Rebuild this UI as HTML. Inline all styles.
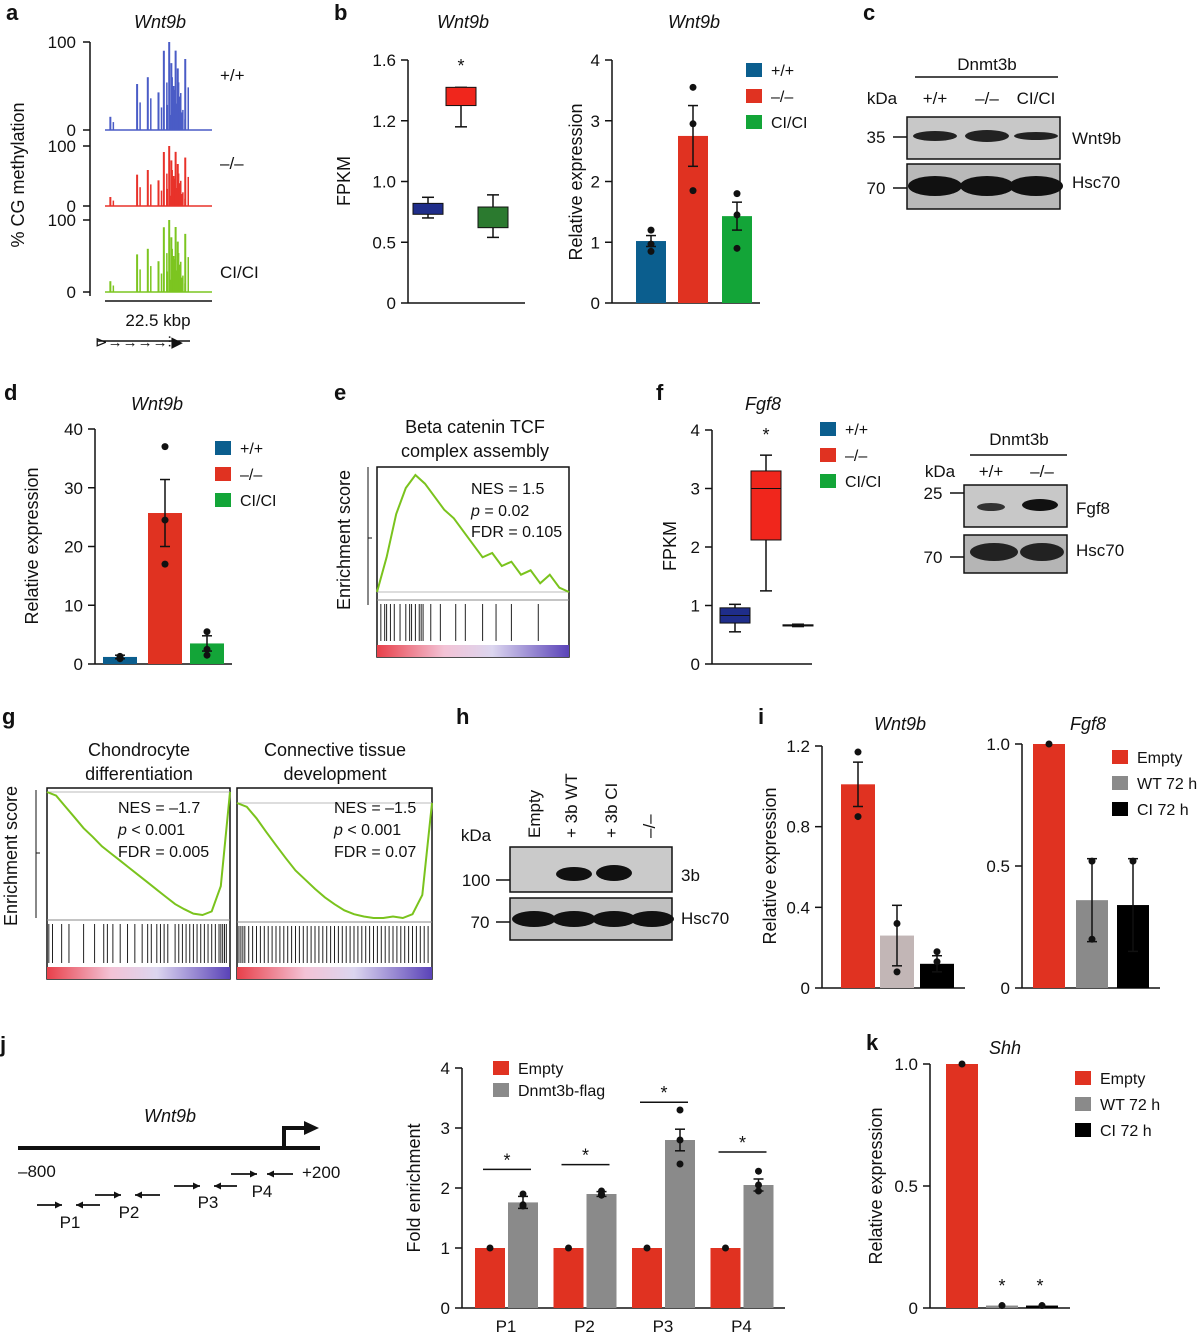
<!DOCTYPE html>
<html><head><meta charset="utf-8">
<style>
html,body{margin:0;padding:0;background:#fff;}
svg{display:block;font-family:"Liberation Sans",sans-serif;}
text{fill:#111;}
</style></head>
<body>
<svg id="fig" width="1200" height="1333" viewBox="0 0 1200 1333" xmlns="http://www.w3.org/2000/svg"></svg>
<script>
// ---------- DATA ----------
var colBlue='#0b5e8e', colRed='#e03221', colGreen='#13a538', colGrey='#8a8a8a', colBlack='#000';
var genoCats=['+/+','–/–','CI/CI'];
var bTicks=[0,0.5,1.0,1.2,1.6];
var bBoxMin=[0.70,1.18,0.54], bBoxQ1=[0.73,1.30,0.62], bBoxQ3=[0.82,1.42,0.79], bBoxMax=[0.87,1.42,0.89];
var bRelVals=[1.02,2.75,1.43], bRelErr=[0.09,0.5,0.23];
var bRelPts=[[1.2,0.97,0.85],[3.55,2.95,1.85],[1.8,1.45,0.9]];
var bRelTicks=[0,1,2,3,4];
var dVals=[1.2,25.7,3.5], dErr=[0.3,5.7,1.3];
var dPts=[[1.3,1.0,0.9],[37,24.5,17],[5.5,2.5,1.5]];
var dTicks=[0,10,20,30,40];
var fBoxMin=[0.55,1.25,0.64], fBoxQ1=[0.70,2.12,0.65], fBoxMed=[0.83,3.0,0.66], fBoxQ3=[0.96,3.30,0.67], fBoxMax=[1.02,3.57,0.68];
var fTicks=[0,1,2,3,4];
var iCats=['Empty','WT 72 h','CI 72 h'];
var iWntVals=[1.01,0.26,0.12], iWntErr=[0.11,0.15,0.04], iWntPts=[[1.17,0.85],[0.32,0.08],[0.18,0.13]];
var iWntTicks=[0,0.4,0.8,1.2];
var iFgfVals=[1.0,0.36,0.34], iFgfErr=[0,0.17,0.19], iFgfPts=[[1.0],[0.52,0.2],[0.52]];
var iFgfTicks=[0,0.5,1.0];
var jCats=['P1','P2','P3','P4'];
var jEmpty=[1,1,1,1], jFlag=[1.76,1.9,2.8,2.05], jFlagErr=[0.1,0.04,0.18,0.1];
var jFlagPts=[[1.9,1.72,1.7],[1.95,1.9,1.88],[3.3,2.8,2.4],[2.28,2.05,1.95]];
var jTicks=[0,1,2,3,4];
var kVals=[1.0,0.01,0.01];
var kTicks=[0,0.5,1.0];
var eES=[0,0.4,0.9,1.2,1.35,1.25,1.1,0.95,0.85,0.7,0.55,0.4,0.45,0.3,0.35,0.2,0.25,0.1,0.2,0.05,0];
var g1ES=[0,-0.05,-0.2,-0.35,-0.5,-0.62,-0.75,-0.85,-0.95,-1.05,-1.15,-1.25,-1.35,-1.45,-1.55,-1.62,-1.68,-1.7,-1.65,-1.3,0];
var g2ES=[0,-0.05,-0.2,-0.38,-0.55,-0.72,-0.88,-1.0,-1.12,-1.23,-1.32,-1.4,-1.45,-1.48,-1.5,-1.5,-1.48,-1.5,-1.45,-1.2,0];
var eHits=[2,4,5,7,9,12,15,17,18,20,22,23,24,28,33,41,46,55,62,70,84];
var g1Hits=[1,3,8,12,20,26,31,33,36,40,44,48,52,55,57,60,62,64,66,70,72,74,76,78,80,82,84,86,88,90,92,94,95,96,97,98];
var g2Hits=[1,2,3,4,6,8,10,12,14,16,18,20,22,24,26,28,30,32,34,36,38,40,42,44,46,48,50,52,54,56,58,60,62,64,66,68,70,72,74,76,78,80,82,84,86,88,90,92,94,96,98];

// ---------- HELPERS ----------
var svg=document.getElementById('fig'), NS='http://www.w3.org/2000/svg';
function el(tag,attrs,parent,txt){var e=document.createElementNS(NS,tag);for(var k in attrs)e.setAttribute(k,attrs[k]);if(txt!==undefined)e.textContent=txt;(parent||svg).appendChild(e);return e;}
function T(x,y,s,size,o){o=o||{};var a={x:x,y:y,'font-size':size||17,'text-anchor':o.anchor||'start'};if(o.it)a['font-style']='italic';if(o.bold)a['font-weight']='bold';if(o.rot)a.transform='rotate(-90 '+x+' '+y+')';var t=el('text',a,o.p,s);return t;}
function L(x1,y1,x2,y2,w,c,p){var l=el('line',{x1:x1,y1:y1,x2:x2,y2:y2,stroke:c||'#111','stroke-width':w||1.5},p);return l;}
function R(x,y,w,h,f,p,name){var r=el('rect',{x:x,y:y,width:w,height:h,fill:f},p);return r;}
function G(name){var g=el('g',{});return g;}
function lin(v0,v1,p0,p1){return function(v){return p0+(v-v0)/(v1-v0)*(p1-p0);};}
function yAxis(g,x,ticks,sc,y0,y1,fmt){L(x,y0,x,y1,1.5,'#111',g);ticks.forEach(function(t,i){var y=sc(t,i);L(x-7,y,x,y,1.5,'#111',g);T(x-12,y+6,fmt?fmt(t):String(t),17,{anchor:'end',p:g,name:'y-tick-label'});});}
function panelLabel(s,x,y){T(x,y,s,22,{bold:true,name:'panel-label-'+s});}
function legend(g,x,y,labels,cols,dy){labels.forEach(function(l,i){var r=R(x,y+i*dy,16,14,cols[i],g,'legend-swatch');T(x+25,y+i*dy+13,l,16,{p:g,name:'legend-entry'});});}
function barChart(g,xs,w,vals,err,pts,cols,sc,y0){vals.forEach(function(v,i){var b=R(xs[i],sc(v),w,y0-sc(v),cols[i],g,'bar-'+i);var cx=xs[i]+w/2;if(err&&err[i]>0){L(cx,sc(v+err[i]),cx,sc(v-err[i]),1.5,'#111',g);L(cx-5,sc(v+err[i]),cx+5,sc(v+err[i]),1.5,'#111',g);L(cx-5,sc(v-err[i]),cx+5,sc(v-err[i]),1.5,'#111',g);}if(pts)pts[i].forEach(function(p){var c=el('circle',{cx:cx,cy:sc(p),r:3.5,fill:'#111'},g);});});}

// ---------- PANEL a ----------
panelLabel('a',6,20);
var ga=G('panel-a');
T(160,28,'Wnt9b',18,{it:true,anchor:'middle',p:ga});
T(24,175,'% CG methylation',18,{rot:true,anchor:'middle',p:ga,name:'y-axis-title'});
L(90,42,90,296,1.5,'#111',ga);
[[42,'100'],[130,'0'],[146,'100'],[206,'0'],[220,'100'],[292,'0']].forEach(function(t){L(83,t[0],90,t[0],1.5,'#111',ga);T(76,t[0]+6,t[1],17,{anchor:'end',p:ga});});
var trackSpikes=[[0.05,0.15],[0.3,0.55],[0.4,0.6],[0.5,0.45],[0.55,0.9],[0.58,0.3],[0.6,1],[0.62,0.8],[0.64,0.5],[0.66,0.95],[0.68,0.7],[0.7,0.4],[0.72,0.2],[0.75,0.85]];
[[130,88,'#4a5cc6','+/+',75],[206,60,'#e8322a','–/–',163],[292,72,'#7cc520','CI/CI',272]].forEach(function(tr){L(105,tr[0],212,tr[0],1.5,tr[2],ga);trackSpikes.forEach(function(s,i){var x=105+s[0]*107;var h=tr[1]*s[1]*(i%2?0.95:1);L(x,tr[0],x,tr[0]-h,2,tr[2],ga);L(x+3,tr[0],x+3,tr[0]-h*0.6,1.5,tr[2],ga);});T(220,tr[4]+6,tr[3],17,{p:ga,name:'track-label'});});
L(105,301,212,301,1.5,'#111',ga);T(158,326,'22.5 kbp',17,{anchor:'middle',p:ga});
L(97,341,190,341,1.5,'#111',ga);T(95,347,'⊳→→→→⫶▶',15,{p:ga,name:'gene-model'});

// ---------- PANEL b ----------
panelLabel('b',334,20);
var gb=G('panel-b-fpkm');
T(463,28,'Wnt9b',18,{it:true,anchor:'middle',p:gb});
T(350,181,'FPKM',18,{rot:true,anchor:'middle',p:gb,name:'y-axis-title'});
function bSc(v){for(var i=0;i<bTicks.length-1;i++){if(v<=bTicks[i+1])return 303-(i+(v-bTicks[i])/(bTicks[i+1]-bTicks[i]))*60.75;}return 60;}
yAxis(gb,408,bTicks,function(t){return bSc(t);},60,303,function(t){return t===0?'0':t.toFixed(1);});
L(408,303,525,303,1.5,'#111',gb);
var bCol=['#1f2d8a','#f0261c','#2b7a2f'],bX=[413,446,478];
bBoxMin.forEach(function(m,i){var cx=bX[i]+15;L(cx,bSc(bBoxMax[i]),cx,bSc(bBoxMin[i]),1.5,'#111',gb);L(cx-6,bSc(bBoxMax[i]),cx+6,bSc(bBoxMax[i]),1.5,'#111',gb);L(cx-6,bSc(bBoxMin[i]),cx+6,bSc(bBoxMin[i]),1.5,'#111',gb);var r=el('rect',{x:bX[i],y:bSc(bBoxQ3[i]),width:30,height:bSc(bBoxQ1[i])-bSc(bBoxQ3[i]),fill:bCol[i],stroke:'#111','stroke-width':1},gb);});
T(461,72,'*',18,{anchor:'middle',p:gb,name:'significance-star'});

var gb2=G('panel-b-relexp');
T(694,28,'Wnt9b',18,{it:true,anchor:'middle',p:gb2});
T(582,182,'Relative expression',18,{rot:true,anchor:'middle',p:gb2,name:'y-axis-title'});
var bRs=lin(0,4,303,60);
yAxis(gb2,612,bRelTicks,function(t){return bRs(t);},60,303);
L(612,303,760,303,1.5,'#111',gb2);
barChart(gb2,[636,678,722],30,bRelVals,bRelErr,bRelPts,[colBlue,colRed,colGreen],bRs,303);
legend(gb2,746,63,genoCats,[colBlue,colRed,colGreen],26);

// ---------- PANEL c ----------
panelLabel('c',863,20);
var gc=G('panel-c-blot');
T(987,70,'Dnmt3b',17,{anchor:'middle',p:gc});L(915,77,1058,77,1.5,'#111',gc);
T(882,104,'kDa',17,{anchor:'middle',p:gc});T(935,104,'+/+',17,{anchor:'middle',p:gc});T(987,104,'–/–',17,{anchor:'middle',p:gc});T(1036,104,'CI/CI',17,{anchor:'middle',p:gc});
R(907,117,153,42,'#c8c8c8',gc,'blot-wnt9b');R(907,164,153,45,'#b9b9b9',gc,'blot-hsc70');
el('rect',{x:907,y:117,width:153,height:42,fill:'none',stroke:'#111','stroke-width':1.5},gc);el('rect',{x:907,y:164,width:153,height:45,fill:'none',stroke:'#111','stroke-width':1.5},gc);
[[935,5],[987,6],[1036,4]].forEach(function(b){el('ellipse',{cx:b[0],cy:136,rx:22,ry:b[1],fill:'#222'},gc);el('ellipse',{cx:b[0],cy:186,rx:27,ry:10,fill:'#111'},gc);});
T(876,143,'35',17,{anchor:'middle',p:gc});L(893,137,907,137,1.5,'#111',gc);
T(876,194,'70',17,{anchor:'middle',p:gc});L(893,188,907,188,1.5,'#111',gc);
T(1072,144,'Wnt9b',17,{p:gc});T(1072,188,'Hsc70',17,{p:gc});

// ---------- PANEL d ----------
panelLabel('d',4,400);
var gd=G('panel-d');
T(157,410,'Wnt9b',18,{it:true,anchor:'middle',p:gd});
T(38,546,'Relative expression',18,{rot:true,anchor:'middle',p:gd,name:'y-axis-title'});
var dS=lin(0,40,664,429);
yAxis(gd,95,dTicks,function(t){return dS(t);},429,664);
L(95,664,232,664,1.5,'#111',gd);
barChart(gd,[103,148,190],34,dVals,dErr,dPts,[colBlue,colRed,colGreen],dS,664);
legend(gd,215,441,genoCats,[colBlue,colRed,colGreen],26);

// ---------- GSEA helper ----------
function gsea(g,x0,x1,yTop,yZero,yBot,yHits,yBar,es,hits,minES,maxES){
  var box=el('rect',{x:x0,y:yTop,width:x1-x0,height:yBar+12-yTop,fill:'none',stroke:'#111','stroke-width':1.5},g);
  L(x0,yHits,x1,yHits,1,'#888',g);L(x0,yZero,x1,yZero,1,'#bbb',g);
  var ys=lin(0,maxES===0?minES:maxES,yZero,maxES===0?yBot:yTop+8);
  var pts=es.map(function(v,i){return (x0+i/(es.length-1)*(x1-x0)).toFixed(1)+','+ys(v).toFixed(1);}).join(' ');
  var pl=el('polyline',{points:pts,fill:'none',stroke:'#7ac31d','stroke-width':2},g);
  hits.forEach(function(h){var x=x0+h/100*(x1-x0);L(x,yHits+4,x,yBar-4,1,'#222',g);});
  var defs=el('defs',{},g);var id='gr'+x0;var lg=el('linearGradient',{id:id,x1:0,x2:1,y1:0,y2:0},defs);
  [['0','#e8404a'],['0.35','#f3c3d6'],['0.6','#dcd6ef'],['1','#5a43b8']].forEach(function(s){el('stop',{offset:s[0],'stop-color':s[1]},lg);});
  var cb=el('rect',{x:x0,y:yBar,width:x1-x0,height:12,fill:'url(#'+id+')'},g);
}

// ---------- PANEL e ----------
panelLabel('e',334,400);
var ge=G('panel-e');
T(475,433,'Beta catenin TCF',18,{anchor:'middle',p:ge});T(475,457,'complex assembly',18,{anchor:'middle',p:ge});
T(350,540,'Enrichment score',18,{rot:true,anchor:'middle',p:ge,name:'y-axis-title'});
L(368,467,368,605,1,'#111',ge);L(368,538,372,538,1,'#111',ge);
gsea(ge,377,569,467,592,592,600,645,eES,eHits,0,1.35);
T(471,494,'NES = 1.5',16,{p:ge});
var pe=T(471,516,'',16,{p:ge});el('tspan',{'font-style':'italic'},pe,'p');el('tspan',{},pe,' = 0.02');
T(471,537,'FDR = 0.105',16,{p:ge});

// ---------- PANEL f ----------
panelLabel('f',656,400);
var gf=G('panel-f');
T(763,410,'Fgf8',18,{it:true,anchor:'middle',p:gf});
T(676,546,'FPKM',18,{rot:true,anchor:'middle',p:gf,name:'y-axis-title'});
var fS=lin(0,4,664,430);
yAxis(gf,712,fTicks,function(t){return fS(t);},430,664);
L(712,664,812,664,1.5,'#111',gf);
var fCol=['#1f2d8a','#f0261c','#2b7a2f'],fX=[720,751,783];
fBoxMin.forEach(function(m,i){var cx=fX[i]+15;L(cx,fS(fBoxMax[i]),cx,fS(fBoxMin[i]),1.5,'#111',gf);L(cx-6,fS(fBoxMax[i]),cx+6,fS(fBoxMax[i]),1.5,'#111',gf);L(cx-6,fS(fBoxMin[i]),cx+6,fS(fBoxMin[i]),1.5,'#111',gf);var r=el('rect',{x:fX[i],y:fS(fBoxQ3[i]),width:30,height:Math.max(1,fS(fBoxQ1[i])-fS(fBoxQ3[i])),fill:i==2?'#555':fCol[i],stroke:'#111','stroke-width':1},gf);L(fX[i],fS(fBoxMed[i]),fX[i]+30,fS(fBoxMed[i]),1,'#111',gf);});
T(766,441,'*',18,{anchor:'middle',p:gf,name:'significance-star'});
legend(gf,820,422,genoCats,[colBlue,colRed,colGreen],26);
var gf2=G('panel-f-blot');
T(1019,445,'Dnmt3b',17,{anchor:'middle',p:gf2});L(970,455,1067,455,1.5,'#111',gf2);
T(940,477,'kDa',17,{anchor:'middle',p:gf2});T(991,477,'+/+',17,{anchor:'middle',p:gf2});T(1042,477,'–/–',17,{anchor:'middle',p:gf2});
R(964,485,103,42,'#c8c8c8',gf2,'blot-fgf8');R(964,535,103,38,'#b5b5b5',gf2,'blot-hsc70');
el('rect',{x:964,y:485,width:103,height:42,fill:'none',stroke:'#111','stroke-width':1.5},gf2);el('rect',{x:964,y:535,width:103,height:38,fill:'none',stroke:'#111','stroke-width':1.5},gf2);
el('ellipse',{cx:991,cy:507,rx:14,ry:4,fill:'#333'},gf2);el('ellipse',{cx:1040,cy:505,rx:18,ry:6,fill:'#111'},gf2);
el('ellipse',{cx:994,cy:552,rx:24,ry:9,fill:'#222'},gf2);el('ellipse',{cx:1042,cy:552,rx:22,ry:9,fill:'#222'},gf2);
T(933,499,'25',17,{anchor:'middle',p:gf2});L(950,493,964,493,1.5,'#111',gf2);
T(933,563,'70',17,{anchor:'middle',p:gf2});L(950,557,964,557,1.5,'#111',gf2);
T(1076,514,'Fgf8',17,{p:gf2});T(1076,556,'Hsc70',17,{p:gf2});

// ---------- PANEL g ----------
panelLabel('g',2,724);
var gg=G('panel-g');
T(139,756,'Chondrocyte',18,{anchor:'middle',p:gg});T(139,780,'differentiation',18,{anchor:'middle',p:gg});
T(335,756,'Connective tissue',18,{anchor:'middle',p:gg});T(335,780,'development',18,{anchor:'middle',p:gg});
T(17,856,'Enrichment score',18,{rot:true,anchor:'middle',p:gg,name:'y-axis-title'});
L(36,790,36,918,1,'#111',gg);L(36,853,40,853,1,'#111',gg);
gsea(gg,47,230,788,792,915,920,967,g1ES,g1Hits,-1.7,0);
gsea(gg,237,432,788,803,918,922,967,g2ES,g2Hits,-1.5,0);
[[118,'NES = –1.7','< 0.001','FDR = 0.005'],[334,'NES = –1.5','< 0.001','FDR = 0.07']].forEach(function(s){T(s[0],813,s[1],16,{p:gg});var t=T(s[0],835,'',16,{p:gg});el('tspan',{'font-style':'italic'},t,'p');el('tspan',{},t,' '+s[2]);T(s[0],857,s[3],16,{p:gg});});

// ---------- PANEL h ----------
panelLabel('h',456,724);
var gh=G('panel-h-blot');
[['Empty',540],['+ 3b WT',577],['+ 3b CI',617],['–/–',655]].forEach(function(l){T(l[1],838,l[0],17,{rot:true,p:gh,name:'lane-label'});});
T(476,841,'kDa',17,{anchor:'middle',p:gh});
R(510,847,162,45,'#cacaca',gh,'blot-3b');R(510,898,162,42,'#c0c0c0',gh,'blot-hsc70');
el('rect',{x:510,y:847,width:162,height:45,fill:'none',stroke:'#111','stroke-width':1.5},gh);el('rect',{x:510,y:898,width:162,height:42,fill:'none',stroke:'#111','stroke-width':1.5},gh);
el('ellipse',{cx:574,cy:874,rx:18,ry:7,fill:'#111'},gh);el('ellipse',{cx:614,cy:873,rx:18,ry:8,fill:'#111'},gh);
[534,574,614,652].forEach(function(x){el('ellipse',{cx:x,cy:919,rx:22,ry:8,fill:'#111'},gh);});
T(476,886,'100',17,{anchor:'middle',p:gh});L(496,880,510,880,1.5,'#111',gh);
T(480,928,'70',17,{anchor:'middle',p:gh});L(496,922,510,922,1.5,'#111',gh);
T(681,881,'3b',17,{p:gh});T(681,924,'Hsc70',17,{p:gh});

// ---------- PANEL i ----------
panelLabel('i',758,724);
var gi=G('panel-i-wnt9b');
T(900,730,'Wnt9b',18,{it:true,anchor:'middle',p:gi});
T(776,866,'Relative expression',18,{rot:true,anchor:'middle',p:gi,name:'y-axis-title'});
var iS=lin(0,1.2,988,746);
yAxis(gi,822,iWntTicks,function(t){return iS(t);},746,988,function(t){return t===0?'0':t.toFixed(1);});
L(822,988,965,988,1.5,'#111',gi);
barChart(gi,[841,880,920],34,iWntVals,iWntErr,iWntPts,[colRed,'#c2b6b6',colBlack],iS,988);
var gi2=G('panel-i-fgf8');
T(1088,730,'Fgf8',18,{it:true,anchor:'middle',p:gi2});
var iS2=lin(0,1,988,744);
yAxis(gi2,1022,iFgfTicks,function(t){return iS2(t);},744,988,function(t){return t===0?'0':t.toFixed(1);});
L(1022,988,1160,988,1.5,'#111',gi2);
barChart(gi2,[1033,1076,1117],32,iFgfVals,iFgfErr,iFgfPts,[colRed,colGrey,colBlack],iS2,988);
legend(gi2,1112,750,iCats,[colRed,colGrey,colBlack],26);

// ---------- PANEL j ----------
panelLabel('j',0,1052);
var gj=G('panel-j-schematic');
T(170,1122,'Wnt9b',18,{it:true,anchor:'middle',p:gj});
L(18,1148,320,1148,4,'#111',gj);
el('polyline',{points:'284,1148 284,1128 306,1128',fill:'none',stroke:'#111','stroke-width':4},gj);el('polygon',{points:'304,1121 319,1128 304,1135',fill:'#111'},gj);
T(18,1177,'–800',17,{p:gj});T(302,1178,'+200',17,{p:gj});
function arr(x1,x2,y){L(x1,y,x2,y,1.8,'#111',gj);var d=x2>x1?-1:1;el('polygon',{points:x2+','+y+' '+(x2+d*7)+','+(y-3.5)+' '+(x2+d*7)+','+(y+3.5),fill:'#111'},gj);}
arr(37,62,1205);arr(100,76,1205);arr(95,121,1195);arr(160,135,1195);arr(174,200,1186);arr(237,214,1186);arr(231,257,1174);arr(293,267,1174);
T(70,1228,'P1',17,{anchor:'middle',p:gj});T(129,1218,'P2',17,{anchor:'middle',p:gj});T(208,1208,'P3',17,{anchor:'middle',p:gj});T(262,1197,'P4',17,{anchor:'middle',p:gj});
var gj2=G('panel-j-chart');
T(420,1188,'Fold enrichment',18,{rot:true,anchor:'middle',p:gj2,name:'y-axis-title'});
var jS=lin(0,4,1308,1068);
yAxis(gj2,462,jTicks,function(t){return jS(t);},1068,1308);
L(462,1308,785,1308,1.5,'#111',gj2);
jCats.forEach(function(c,i){var x0=475+i*78.5;barChart(gj2,[x0],30,[jEmpty[i]],[0],[[jEmpty[i]]],[colRed],jS,1308);barChart(gj2,[x0+33],30,[jFlag[i]],[jFlagErr[i]],[jFlagPts[i]],[colGrey],jS,1308);T(x0+31,1332,c,17,{anchor:'middle',p:gj2,name:'x-tick-label'});var sy=jS(jFlag[i]+jFlagErr[i])-27;L(x0+8,sy,x0+56,sy,1.5,'#111',gj2);T(x0+32,sy-3,'*',18,{anchor:'middle',p:gj2,name:'significance-star'});});
legend(gj2,493,1061,['Empty','Dnmt3b-flag'],[colRed,colGrey],22);

// ---------- PANEL k ----------
panelLabel('k',866,1050);
var gk=G('panel-k');
T(1005,1054,'Shh',18,{it:true,anchor:'middle',p:gk});
T(882,1186,'Relative expression',18,{rot:true,anchor:'middle',p:gk,name:'y-axis-title'});
var kS=lin(0,1,1308,1064);
yAxis(gk,930,kTicks,function(t){return kS(t);},1064,1308,function(t){return t===0?'0':t.toFixed(1);});
L(930,1308,1070,1308,1.5,'#111',gk);
barChart(gk,[946,986,1026],32,kVals,null,[[kVals[0]],[kVals[1]],[kVals[2]]],[colRed,colGrey,colBlack],kS,1308);
T(1002,1292,'*',18,{anchor:'middle',p:gk,name:'significance-star'});T(1040,1292,'*',18,{anchor:'middle',p:gk,name:'significance-star'});
legend(gk,1075,1071,iCats,[colRed,colGrey,colBlack],26);
</script>
</body></html>
